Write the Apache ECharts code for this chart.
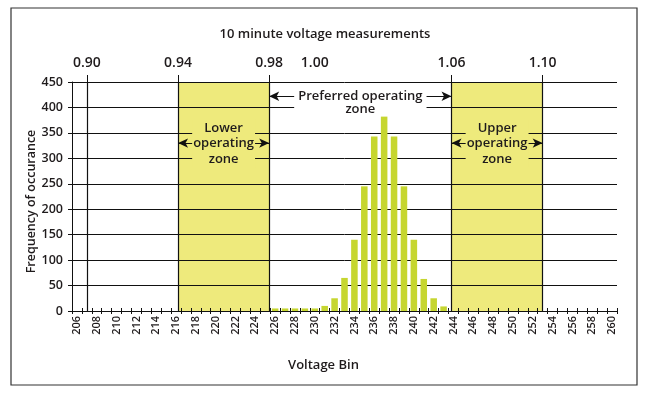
<!DOCTYPE html>
<html><head><meta charset="utf-8">
<script src="https://cdn.jsdelivr.net/npm/echarts@6/dist/echarts.min.js"></script>
<style>html,body{margin:0;padding:0;background:#fff}#c{width:650px;height:394px}</style>
</head><body><div id="c"></div>
<script>
// ---- data ----
const NOMINAL_VOLTAGE = 230;
const voltageBins = ['206','207','208','209','210','211','212','213','214','215','216','217','218','219','220','221','222','223','224','225','226','227','228','229','230','231','232','233','234','235','236','237','238','239','240','241','242','243','244','245','246','247','248','249','250','251','252','253','254','255','256','257','258','259','260'];
const frequency = [0,0,0,0,0,0,0,0,0,0,0,0,0,0,0,0,0,0,0,0,5,5,5,5,5,10,25,65,140,245,343,382,343,245,140,63,25,9,0,0,0,0,0,0,0,0,0,0,0,0,0,0,0,0,0];
const topAxisLabels = [0.90, 0.94, 0.98, 1.00, 1.06, 1.10];
const boundaryLines = [0.90, 0.94, 0.98, 1.06, 1.10];
const lowerZone = [0.94, 0.98];
const upperZone = [1.06, 1.10];
const preferredZone = [0.98, 1.06];

// ---- styles ----
const FONT = 'Open Sans';
const TXT = '#1f1b1c';
const ZONE = '#eeea7c';
const BAR = '#c6d630';
const LINE = '#111';

const chart = echarts.init(document.getElementById('c'), null, {renderer: 'canvas'});
const mid = a => (a[0] + a[1]) / 2;

const option = {
  animation: false,
  textStyle: {fontFamily: FONT, fontWeight: 600, color: TXT},
  title: {
    text: '10 minute voltage measurements', left: 'center', top: 23,
    textStyle: {fontFamily: FONT, fontSize: 13, fontWeight: 600, color: TXT}
  },
  graphic: [{
    type: 'rect', silent: true, z: 100,
    shape: {x: 11, y: 8, width: 626, height: 377},
    style: {fill: 'none', stroke: '#333', lineWidth: 1.2}
  }],
  grid: {left: 72, right: 33, top: 82, bottom: 83},
  xAxis: [
    {
      type: 'category', data: voltageBins, position: 'bottom', z: 3,
      axisLine: {lineStyle: {color: LINE, width: 1.2}},
      axisTick: {show: true, interval: 0, length: 3, lineStyle: {color: LINE}},
      axisLabel: {interval: 1, rotate: 90, fontSize: 11, margin: 5, color: TXT, fontFamily: FONT, fontWeight: 600},
      splitLine: {show: false},
      name: 'Voltage Bin', nameLocation: 'middle', nameGap: 48, nameMoveOverlap: false,
      nameTextStyle: {fontSize: 13, fontWeight: 600, color: TXT, fontFamily: FONT, padding: [0, 42, 0, 0]}
    },
    {
      type: 'value', position: 'top', z: 3,
      min: (206 - 0.5) / NOMINAL_VOLTAGE, max: (260 + 0.5) / NOMINAL_VOLTAGE,
      axisLine: {show: false}, splitLine: {show: false},
      axisTick: {show: true, customValues: boundaryLines, length: 7, lineStyle: {color: LINE}},
      axisLabel: {customValues: topAxisLabels, formatter: v => v.toFixed(2), fontSize: 14, margin: 12,
                  color: TXT, fontFamily: FONT, fontWeight: 600}
    },
    {
      type: 'category', data: voltageBins, position: 'bottom', z: 3,
      axisLine: {show: false},
      axisTick: {show: true, inside: true, interval: 0, length: 3, lineStyle: {color: LINE}},
      axisLabel: {show: false}, splitLine: {show: false}
    }
  ],
  yAxis: {
    type: 'value', min: 0, max: 450, interval: 50, z: 1,
    axisLine: {show: true, lineStyle: {color: LINE}},
    axisTick: {show: true, length: 4, lineStyle: {color: LINE}},
    splitLine: {show: true, lineStyle: {color: LINE, width: 1}},
    axisLabel: {fontSize: 12.5, margin: 9, color: TXT, fontFamily: FONT, fontWeight: 600},
    name: 'Frequency of occurance', nameLocation: 'middle', nameGap: 34, nameRotate: 90, nameMoveOverlap: false,
    nameTextStyle: {fontSize: 12.5, fontWeight: 600, color: TXT, fontFamily: FONT, padding: [0, 10, 0, 0]}
  },
  series: [
    {
      type: 'line', xAxisIndex: 1, yAxisIndex: 0, data: [], z: 0, silent: true,
      markArea: {
        z: 0, silent: true,
        itemStyle: {color: ZONE},
        data: [
          [{xAxis: lowerZone[0]}, {xAxis: lowerZone[1]}],
          [{xAxis: upperZone[0]}, {xAxis: upperZone[1]}]
        ]
      }
    },
    {
      type: 'bar', xAxisIndex: 0, yAxisIndex: 0, data: frequency, barWidth: '66%', z: 2,
      itemStyle: {color: BAR}
    },
    {
      type: 'line', xAxisIndex: 1, yAxisIndex: 0, data: [], z: 4, silent: true,
      markLine: {
        z: 4, silent: true, symbol: 'none', label: {show: false},
        lineStyle: {color: LINE, width: 1.2, type: 'solid'},
        data: boundaryLines.map(v => ({xAxis: v}))
      }
    },
    {
      type: 'line', xAxisIndex: 1, yAxisIndex: 0, data: [], z: 5, silent: true,
      markLine: {
        z: 5, silent: true, symbol: ['arrow', 'arrow'], symbolSize: [7, 10], label: {show: false},
        lineStyle: {color: LINE, width: 1.2, type: 'solid'},
        data: [
          [{coord: [lowerZone[0], 330]}, {coord: [lowerZone[1], 330]}],
          [{coord: [upperZone[0], 330]}, {coord: [upperZone[1], 330]}],
          [{coord: [preferredZone[0], 422]}, {coord: [preferredZone[1], 422]}]
        ]
      }
    },
    {
      type: 'line', xAxisIndex: 1, yAxisIndex: 0, data: [], z: 6, silent: true,
      markPoint: {
        z: 6, silent: true, symbol: 'circle', symbolSize: 0,
        itemStyle: {color: 'rgba(0,0,0,0)'},
        label: {show: true, position: 'inside', formatter: p => p.name,
                fontSize: 13, fontWeight: 600, color: TXT, fontFamily: FONT, lineHeight: 15.5,
                backgroundColor: ZONE, padding: [1, 1]},
        data: [
          {name: 'Lower\noperating\nzone', coord: [mid(lowerZone), 329]},
          {name: 'Upper\noperating\nzone', coord: [mid(upperZone), 329]},
          {name: 'Preferred operating\nzone', coord: [mid(preferredZone), 410],
           label: {backgroundColor: '#fff', lineHeight: 13, padding: [1, 4]}}
        ]
      }
    }
  ]
};
chart.setOption(option);
</script>
</body></html>
